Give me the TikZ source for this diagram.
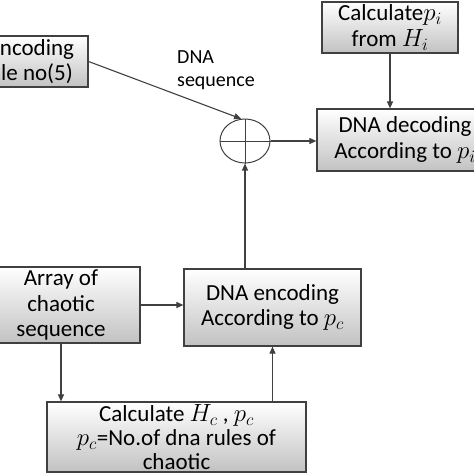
\documentclass[tikz,border=0pt]{standalone}
\usepackage{fontspec}
\setmainfont{Carlito}
\usepackage{xcolor}
\usetikzlibrary{positioning, arrows.meta, shapes.geometric}

\tikzset{
  block/.style={draw=black!75, line width=1.2pt, top color=white, bottom color=black!24,
                align=center, inner sep=2pt, font=\fontsize{23}{25.5}\selectfont},
  flow/.style={draw=black!75, line width=1.1pt, -{Triangle[length=7pt, width=6pt]}},
}

\begin{document}
\begin{tikzpicture}[x=1pt, y=-1pt]
    \useasboundingbox (0,0) rectangle (474,474);
    \clip (0,0) rectangle (474,474);

    % boxes
    \node[block, minimum width=102pt, minimum height=51pt] (rule)   at (37,61.5)   {ncoding\\le no(5)};
    \node[block, minimum width=136pt, minimum height=51pt] (calcpi) at (390,27.5)  {Calculate$p_i$\\from $H_i$};
    \node[block, minimum width=176pt, minimum height=62pt] (decode) at (405,140)   {DNA decoding\\According to $p_i$};
    \node[block, minimum width=177pt, minimum height=77pt] (encode) at (272.5,307.5) {DNA encoding\\According to $p_c$};
    \node[block, minimum width=158pt, minimum height=76pt] (chaos)  at (61,305)    {Array of\\chaotic\\sequence};
    \node[block, minimum width=259pt, minimum height=70pt, inner sep=0pt,
          font=\fontsize{23}{24}\selectfont] (calchc) at (176.5,437) {Calculate $H_c$ , $p_c$\\$p_c$=No.of dna rules of\\chaotic};

    % xor
    \node[ellipse, draw=black!75, line width=1pt, minimum width=50pt, minimum height=44pt] (xor) at (245,141) {};
    \draw[black!75, line width=1pt] (xor.north) -- (xor.south) (xor.west) -- (xor.east);

    \node[font=\fontsize{20}{23}\selectfont, align=left, anchor=north west, inner sep=0pt] (seqlabel) at (177,50) {DNA\\sequence};

    % connectors
    \draw[flow] (rule.east) -- (xor.100);
    \draw[flow] (xor.east) -- (xor.east -| decode.west);
    \draw[flow] (calcpi.south) -- (calcpi.south |- decode.north);
    \draw[flow] (xor.south |- encode.north) -- (xor.south);
    \draw[flow] (chaos.east) -- (chaos.east -| encode.west);
    \draw[flow] (chaos.south) -- (chaos.south |- calchc.north);
    \draw[flow] (encode.south |- calchc.north) -- (encode.south);
\end{tikzpicture}
\end{document}
